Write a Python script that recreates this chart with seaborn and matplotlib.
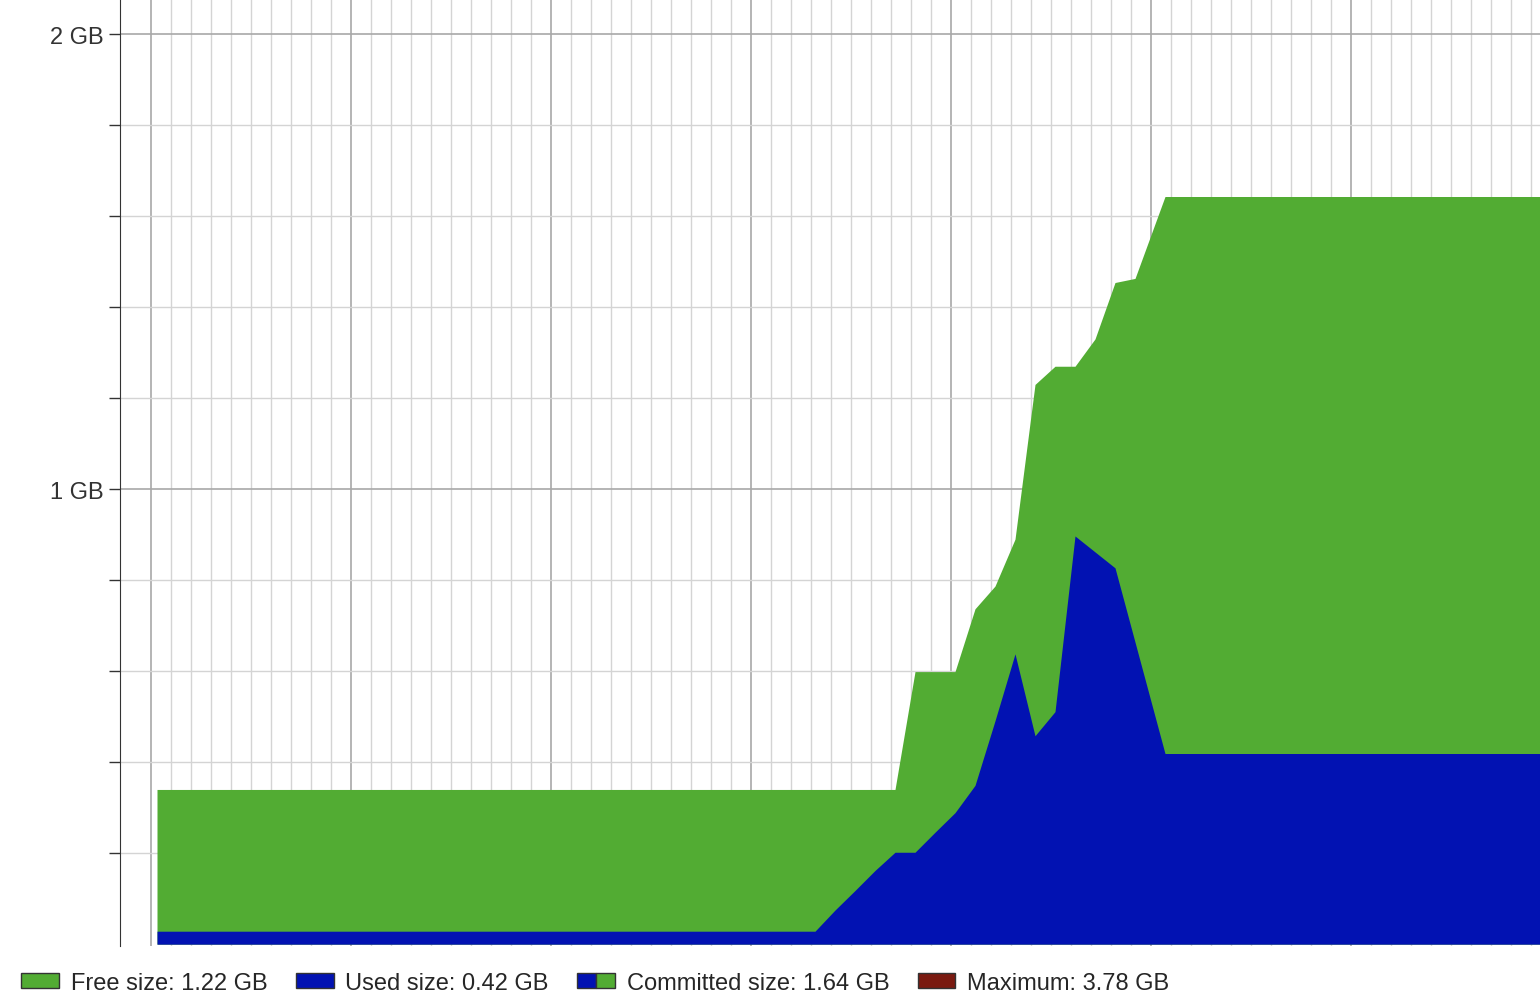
import matplotlib
matplotlib.use("Agg")
from matplotlib import pyplot as plt
from matplotlib.patches import Patch
from matplotlib.legend_handler import HandlerTuple
import seaborn as sns
import numpy as np

# time in sample units (one sample per minor grid step)
committed_t = [0.3, 37.2, 38.2, 40.2, 41.2, 42.2, 43.2, 44.2, 45.2, 46.2, 47.2, 48.2, 49.2, 50.7, 69.5]
committed_gb = [0.34, 0.34, 0.599, 0.599, 0.737, 0.787, 0.89, 1.23, 1.27, 1.27, 1.33, 1.454, 1.463, 1.643, 1.643]

used_t = [0.3, 33.2, 34.2, 35.2, 36.2, 37.2, 38.2, 39.2, 40.2, 41.2, 42.2, 43.2, 44.2, 45.2, 46.2, 47.2, 48.2, 50.7, 69.5]
used_gb = [0.0285, 0.0285, 0.075, 0.118, 0.162, 0.202, 0.202, 0.246, 0.289, 0.349, 0.491, 0.638, 0.458,
           0.511, 0.897, 0.862, 0.827, 0.419, 0.419]

legend_labels = ["Free size: 1.22 GB", "Used size: 0.42 GB", "Committed size: 1.64 GB", "Maximum: 3.78 GB"]

green = "#52ac33"
blue = "#0212b2"
dark_red = "#7a1a10"

sns.set_style("white")
plt.rcParams['font.family'] = ['Liberation Sans', 'DejaVu Sans']

fig = plt.figure(figsize=(15.4, 10.04), dpi=100)
ax = fig.add_axes([120 / 1540, (1004 - 947) / 1004, 1420 / 1540, 947 / 1004])

ax.fill_between(committed_t, committed_gb, 0, color=green, lw=0)
ax.fill_between(used_t, used_gb, 0, color=blue, lw=0)

ax.set_xlim(-1.55, 69.45)
ax.set_ylim(-0.004, 2.077)
ax.set_xticks(np.arange(0, 70, 10))
ax.set_xticks(np.arange(0, 70, 1), minor=True)
ax.set_yticks([1, 2])
ax.set_yticklabels(["1 GB", "2 GB"], fontsize=17, color="#333333")
ax.set_yticks(np.arange(0.2, 2.05, 0.2), minor=True)
ax.tick_params(axis="x", which="both", length=0, labelbottom=False)
ax.tick_params(axis="y", which="both", left=True, length=8, width=1, color="#333333")
ax.grid(True, which="major", color="#a8a8a8", lw=1.2)
ax.grid(True, which="minor", color="#d4d4d4", lw=1)
ax.set_axisbelow(True)
for s in ["top", "right", "bottom"]:
    ax.spines[s].set_visible(False)
ax.spines["left"].set_color("#333333")

handles = [
    Patch(facecolor=green, edgecolor="#333333"),
    Patch(facecolor=blue, edgecolor="#333333"),
    (Patch(facecolor=blue, edgecolor="#333333"), Patch(facecolor=green, edgecolor="#333333")),
    Patch(facecolor=dark_red, edgecolor="#333333"),
]
fig.legend(handles, legend_labels, loc="lower left", bbox_to_anchor=(0.0, -0.012), ncol=4,
           frameon=False, fontsize=17, handlelength=1.6, handleheight=0.6, handletextpad=0.5,
           columnspacing=1.2, handler_map={tuple: HandlerTuple(ndivide=None, pad=0)})

fig.savefig("out.png", dpi=100)
